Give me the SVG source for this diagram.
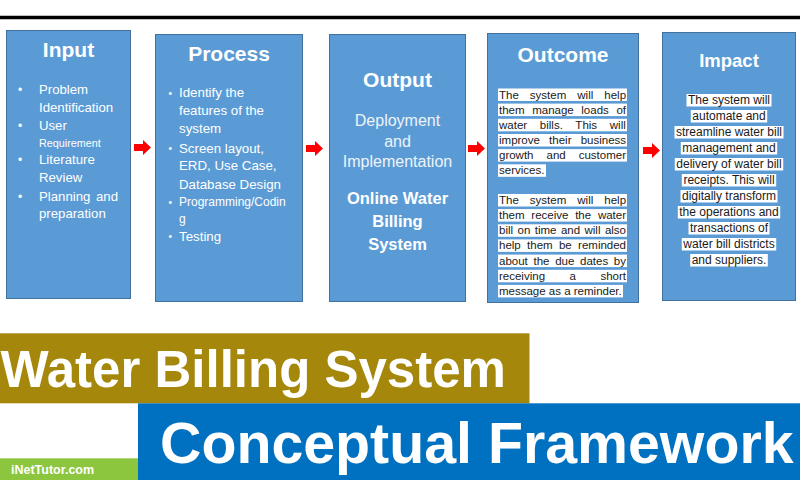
<svg xmlns="http://www.w3.org/2000/svg" width="800" height="480" viewBox="0 0 800 480">
<style>
.box{fill:#5B9BD5;stroke:#41719C;stroke-width:1}
.title{font-family:"Liberation Sans",Arial,sans-serif;font-weight:bold;fill:#FFFFFF;text-anchor:middle}
.wt{font-family:"Liberation Sans",Arial,sans-serif;fill:#FFFFFF}
.lt{font-family:"Liberation Sans",Arial,sans-serif;fill:#EEF3FA;font-size:16px;text-anchor:middle}
.bd{font-family:"Liberation Sans",Arial,sans-serif;font-weight:bold;fill:#FFFFFF;font-size:16.5px;text-anchor:middle}
.dk{font-family:"Liberation Sans",Arial,sans-serif;fill:#1A1A1A;font-size:11.5px}
.ik{font-family:"Liberation Sans",Arial,sans-serif;fill:#1A1A1A;font-size:12px;text-anchor:middle}
.hl{fill:#FFFFFF}
.arrow{fill:#FF0000}
.banner{font-family:"Liberation Sans",Arial,sans-serif;font-weight:bold;fill:#FFFFFF}
</style>
<defs>
<path id="arr" d="M0,-3.5 H9 V-7.5 L17,0 L9,7.5 V3.5 H0 Z"/>
</defs>
<rect x="0" y="0" width="800" height="480" fill="#FFFFFF"/>
<line x1="0" y1="17.5" x2="800" y2="17.5" stroke="#000000" stroke-width="3.5"/>

<g id="input">
<rect class="box" x="6.5" y="30.5" width="124" height="268"/>
<text class="title" x="68.5" y="57" font-size="21">Input</text>
<g class="wt" font-size="13.2">
<text x="18" y="94" font-size="12">•</text>
<text x="39" y="94">Problem</text>
<text x="39" y="112">Identification</text>
<text x="18" y="130" font-size="12">•</text>
<text x="39" y="130">User</text>
<text x="39" y="146.5" font-size="10.8">Requirement</text>
<text x="18" y="164" font-size="12">•</text>
<text x="39" y="164">Literature</text>
<text x="39" y="182">Review</text>
<text x="18" y="201" font-size="12">•</text>
<text x="39" y="201" word-spacing="2">Planning and</text>
<text x="39" y="218">preparation</text>
</g>
</g>

<g id="process">
<rect class="box" x="155.5" y="34.5" width="147" height="267"/>
<text class="title" x="229" y="61" font-size="21">Process</text>
<g class="wt" font-size="13.3">
<text x="168.5" y="97" font-size="10">•</text>
<text x="179" y="97.3">Identify the</text>
<text x="179" y="115">features of the</text>
<text x="179" y="132.7">system</text>
<text x="168.5" y="152" font-size="10">•</text>
<text x="179" y="152.7">Screen layout,</text>
<text x="179" y="170.3">ERD, Use Case,</text>
<text x="179" y="188.7">Database Design</text>
<text x="168.5" y="206" font-size="10">•</text>
<text x="179" y="206" font-size="12">Programming/Codin</text>
<text x="179" y="222.7" font-size="12">g</text>
<text x="168.5" y="240" font-size="10">•</text>
<text x="179" y="240.7">Testing</text>
</g>
</g>

<g id="output">
<rect class="box" x="329.5" y="34.5" width="136" height="267"/>
<text class="title" x="397.5" y="87" font-size="21">Output</text>
<text class="lt" x="397.5" y="126">Deployment</text>
<text class="lt" x="397.5" y="147">and</text>
<text class="lt" x="397.5" y="167.3">Implementation</text>
<text class="bd" x="397.5" y="204">Online Water</text>
<text class="bd" x="397.5" y="226.7">Billing</text>
<text class="bd" x="397.5" y="250">System</text>
</g>

<g id="outcome">
<rect class="box" x="487.5" y="33.5" width="151" height="269"/>
<text class="title" x="563" y="62" font-size="21">Outcome</text>
<g class="hl">
<rect x="498" y="88.5" width="129" height="12.5"/>
<rect x="498" y="103.6" width="129" height="12.5"/>
<rect x="498" y="118.8" width="129" height="12.5"/>
<rect x="498" y="134" width="129" height="12.5"/>
<rect x="498" y="149.1" width="129" height="12.5"/>
<rect x="498" y="164.3" width="48" height="12.5"/>
<rect x="498" y="194" width="129" height="12.5"/>
<rect x="498" y="209.1" width="129" height="12.5"/>
<rect x="498" y="224.3" width="129" height="12.5"/>
<rect x="498" y="239.4" width="129" height="12.5"/>
<rect x="498" y="254.6" width="129" height="12.5"/>
<rect x="498" y="269.8" width="129" height="12.5"/>
<rect x="498" y="284.9" width="125" height="12.5"/>
</g>
<g class="dk">
<text x="499" y="98.5" word-spacing="7.83">The system will help</text>
<text x="499" y="113.6" word-spacing="4.4">them manage loads of</text>
<text x="499" y="128.8" word-spacing="9.53">water bills. This will</text>
<text x="499" y="144" word-spacing="6">improve their business</text>
<text x="499" y="159.1" word-spacing="9.8">growth and customer</text>
<text x="499" y="174.3">services.</text>
<text x="499" y="204" word-spacing="7.83">The system will help</text>
<text x="499" y="219.1" word-spacing="3.57">them receive the water</text>
<text x="499" y="234.3" word-spacing="1.24">bill on time and will also</text>
<text x="499" y="249.4" word-spacing="3.13">help them be reminded</text>
<text x="499" y="264.6" word-spacing="2.5">about the due dates by</text>
<text x="499" y="279.8" word-spacing="21.3">receiving a short</text>
<text x="499" y="294.9">message as a reminder.</text>
</g>
</g>

<g id="impact">
<rect class="box" x="662.5" y="32.5" width="133" height="268"/>
<text class="title" x="729" y="67" font-size="18.5">Impact</text>
<g class="hl">
<rect x="686.5" y="94" width="85" height="12.5"/>
<rect x="690.8" y="110" width="76.4" height="12.5"/>
<rect x="674.5" y="126" width="109" height="12.5"/>
<rect x="680.8" y="142" width="96.4" height="12.5"/>
<rect x="674.8" y="158" width="108.4" height="12.5"/>
<rect x="681.8" y="174" width="94.4" height="12.5"/>
<rect x="680.5" y="190" width="97" height="12.5"/>
<rect x="677.8" y="206" width="102.4" height="12.5"/>
<rect x="688.5" y="222" width="81" height="12.5"/>
<rect x="681.8" y="238" width="94.4" height="12.5"/>
<rect x="690.2" y="254" width="77.6" height="12.5"/>
</g>
<g class="ik">
<text x="729" y="104">The system will</text>
<text x="729" y="120">automate and</text>
<text x="729" y="136">streamline water bill</text>
<text x="729" y="152">management and</text>
<text x="729" y="168">delivery of water bill</text>
<text x="729" y="184">receipts. This will</text>
<text x="729" y="200">digitally transform</text>
<text x="729" y="216">the operations and</text>
<text x="729" y="232">transactions of</text>
<text x="729" y="248">water bill districts</text>
<text x="729" y="264">and suppliers.</text>
</g>
</g>

<g id="connectors" class="arrow">
<use href="#arr" x="134" y="147.5"/>
<use href="#arr" x="306" y="148.5"/>
<use href="#arr" x="468" y="148.5"/>
<use href="#arr" x="643" y="150.5"/>
</g>

<g id="banner">
<rect x="0" y="333.3" width="529.5" height="70" fill="#A5870B"/>
<text class="banner" x="0.5" y="387" font-size="51">Water Billing System</text>
<rect x="138" y="403.3" width="662" height="76.7" fill="#0070C0"/>
<text class="banner" x="160" y="463.3" font-size="57.3">Conceptual Framework</text>
<rect x="0" y="458.3" width="138" height="21.7" fill="#8CC63E"/>
<text class="banner" x="11" y="474" font-size="12.5">iNetTutor.com</text>
</g>
</svg>
